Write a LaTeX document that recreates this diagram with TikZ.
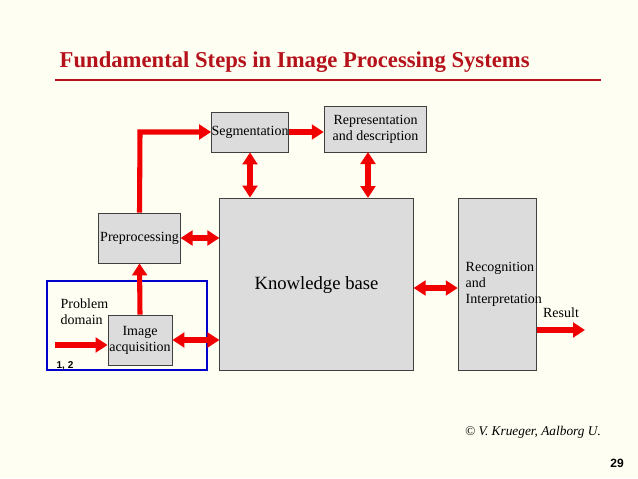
\documentclass[tikz,border=0pt]{standalone}
\usepackage{fontspec}
\setmainfont{Liberation Serif}
\newfontfamily\sansf{Liberation Sans}
\usetikzlibrary{arrows.meta}
\definecolor{bg}{HTML}{FFFEF2}
\definecolor{ttl}{HTML}{B5121B}
\definecolor{arr}{HTML}{F00000}
\definecolor{boxg}{HTML}{DCDCDC}
\begin{document}
\begin{tikzpicture}[x=0.75pt,y=-0.75pt,
  box/.style={draw=black!75,fill=boxg,line width=0.6pt,inner sep=0pt},
  a/.style={draw=arr,line width=3.8pt,-{Triangle[length=9pt,width=11pt]}},
  aa/.style={draw=arr,line width=3.8pt,{Triangle[length=9pt,width=11pt]}-{Triangle[length=9pt,width=11pt]}},
  lbl/.style={font=\fontsize{10.5}{12}\selectfont,align=center}]
\fill[bg] (0,0) rectangle (638,478);
\useasboundingbox (0,0) rectangle (638,478);
\node[text=ttl,font=\fontsize{17}{20}\selectfont\bfseries,anchor=west] (title) at (55,62) {Fundamental Steps in Image Processing Systems};
\draw[ttl,line width=1.6pt] (55,80) -- (601,80);
\node[box,minimum width=57pt,minimum height=30pt,lbl] (seg) at (250,132) {Segmentation};
\node[box,minimum width=77pt,minimum height=34.5pt,lbl] (rep) at (375.5,129) {Representation\\and description};
\node[box,minimum width=61pt,minimum height=37.5pt,lbl] (pre) at (139.5,238) {Preprocessing};
\node[box,minimum width=48pt,minimum height=37.5pt,lbl] (acq) at (140,340) {Image\\acquisition};
\node[box,minimum width=145pt,minimum height=129pt,font=\fontsize{14}{16}\selectfont] (kb) at (316.5,284) {};
\node[font=\fontsize{14}{16}\selectfont] (kbt) at (316.5,285) {Knowledge base};
\node[box,minimum width=59pt,minimum height=129pt] (rec) at (497.5,284) {};
\node[lbl,align=left,anchor=north west] (rect) at (461,258) {Recognition\\and\\Interpretation};
\draw[blue!80!black,line width=0.8pt] (47,281) rectangle (207,370);
\node[lbl,align=left,anchor=north west] (pd) at (56,294) {Problem\\domain};
\node[font=\sansf\bfseries\fontsize{7.5}{9}\selectfont] (n12) at (65,366) {1, 2};
\coordinate (pds) at (55,345);
\coordinate (corner) at (140,132);
\coordinate (res) at (585,330);
\node[lbl] (result) at (561,313) {Result};
\draw[a] (pds) -- (acq.west|-pds);
\draw[a] (acq.north) -- (pre.south);
\draw[a] (pre.north) -- (corner) -- (seg.west);
\draw[a] (seg.east) -- (rep.west|-seg.east);
\draw[aa] (seg.south) -- (seg.south|-kb.north);
\draw[aa] (368,152) -- (368,198);
\draw[aa] (pre.east) -- (kb.west|-pre.east);
\draw[aa] (acq.east) -- (kb.west|-acq.east);
\draw[aa] (kb.east|-0,288) -- (rec.west|-0,288);
\draw[a] (rec.east|-res) -- (res);
\node[font=\itshape\fontsize{10}{12}\selectfont] (copy) at (533,432) {\textcopyright\ V. Krueger, Aalborg U.};
\node[font=\sansf\bfseries\fontsize{9}{11}\selectfont] (pg) at (617,463) {29};
\end{tikzpicture}
\end{document}
